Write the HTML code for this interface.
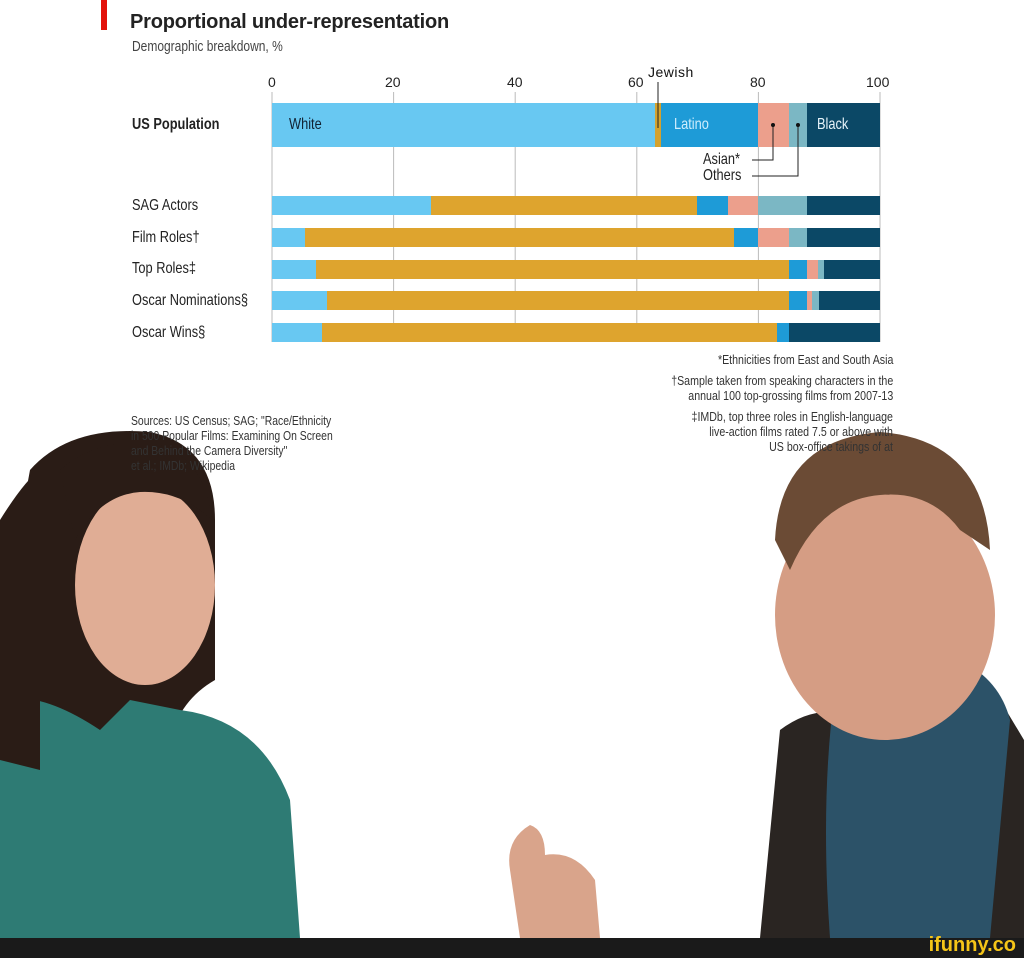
<!DOCTYPE html>
<html><head><meta charset="utf-8"><style>
html,body{margin:0;padding:0;background:#fff;width:1024px;height:958px;overflow:hidden;position:relative;font-family:"Liberation Sans",sans-serif}
.a{position:absolute;white-space:nowrap}
.n{transform:scaleX(0.8);transform-origin:left top}
.r{transform:scaleX(0.85);transform-origin:right top}
.lbl{font-size:15px;color:#222}
.tk{font-size:14px;color:#222}
.fn{font-size:12.5px;color:#333;text-align:right}
</style></head><body>
<div class="a" style="left:101px;top:0;width:6px;height:30px;background:#e3120b"></div>
<div class="a" style="left:130px;top:11px;font-weight:bold;font-size:20px;color:#222;letter-spacing:-0.2px">Proportional under-representation</div>
<div class="a n" style="left:132px;top:38px;font-size:15px;color:#444">Demographic breakdown, %</div>
<svg class="a" style="left:0;top:0" width="1024" height="958">
<g stroke="#bbb" stroke-width="1">
<line x1="272" y1="92" x2="272" y2="342"/><line x1="393.6" y1="92" x2="393.6" y2="342"/><line x1="515.2" y1="92" x2="515.2" y2="342"/><line x1="636.8" y1="92" x2="636.8" y2="342"/><line x1="758.4" y1="92" x2="758.4" y2="342"/><line x1="880" y1="92" x2="880" y2="342"/>
</g>
<g>
<rect x="272" y="103" width="383" height="44" fill="#68c8f2"/><rect x="655" y="103" width="6" height="44" fill="#d4a22e"/><rect x="661" y="103" width="97" height="44" fill="#1e9bd7"/><rect x="758" y="103" width="31" height="44" fill="#ec9f8c"/><rect x="789" y="103" width="18" height="44" fill="#7bb7c4"/><rect x="807" y="103" width="73" height="44" fill="#0b4866"/>
<rect x="272" y="196" width="159" height="19" fill="#68c8f2"/><rect x="431" y="196" width="266" height="19" fill="#dea42e"/><rect x="697" y="196" width="31" height="19" fill="#1e9bd7"/><rect x="728" y="196" width="30" height="19" fill="#ec9f8c"/><rect x="758" y="196" width="49" height="19" fill="#7bb7c4"/><rect x="807" y="196" width="73" height="19" fill="#0b4866"/>
<rect x="272" y="228" width="33" height="19" fill="#68c8f2"/><rect x="305" y="228" width="429" height="19" fill="#dea42e"/><rect x="734" y="228" width="24" height="19" fill="#1e9bd7"/><rect x="758" y="228" width="31" height="19" fill="#ec9f8c"/><rect x="789" y="228" width="18" height="19" fill="#7bb7c4"/><rect x="807" y="228" width="73" height="19" fill="#0b4866"/>
<rect x="272" y="260" width="44" height="19" fill="#68c8f2"/><rect x="316" y="260" width="473" height="19" fill="#dea42e"/><rect x="789" y="260" width="18" height="19" fill="#1e9bd7"/><rect x="807" y="260" width="11" height="19" fill="#ec9f8c"/><rect x="818" y="260" width="6" height="19" fill="#7bb7c4"/><rect x="824" y="260" width="56" height="19" fill="#0b4866"/>
<rect x="272" y="291" width="55" height="19" fill="#68c8f2"/><rect x="327" y="291" width="462" height="19" fill="#dea42e"/><rect x="789" y="291" width="18" height="19" fill="#1e9bd7"/><rect x="807" y="291" width="5" height="19" fill="#ec9f8c"/><rect x="812" y="291" width="7" height="19" fill="#7bb7c4"/><rect x="819" y="291" width="61" height="19" fill="#0b4866"/>
<rect x="272" y="323" width="50" height="19" fill="#68c8f2"/><rect x="322" y="323" width="455" height="19" fill="#dea42e"/><rect x="777" y="323" width="12" height="19" fill="#1e9bd7"/><rect x="789" y="323" width="91" height="19" fill="#0b4866"/>
</g>
<g stroke="#222" stroke-width="1" fill="none">
<line x1="658" y1="82" x2="658" y2="128"/>
<polyline points="773,125 773,160 752,160"/><polyline points="798,125 798,176 752,176"/>
</g>
<circle cx="773" cy="125" r="2" fill="#111"/><circle cx="798" cy="125" r="2" fill="#111"/>
<path d="M30,470 Q70,425 150,432 Q215,445 215,520 L215,680 Q180,700 170,740 L110,770 Q40,770 20,700 Q5,600 30,470Z" fill="#2a1c16"/>
<ellipse cx="145" cy="585" rx="70" ry="100" fill="#e0ad95"/>
<path d="M60,470 Q100,435 160,445 Q205,460 212,520 Q180,490 140,492 Q100,495 75,540Z" fill="#2a1c16"/>
<path d="M0,700 Q40,690 100,730 L130,700 L180,710 Q260,720 290,800 L300,938 L0,938Z" fill="#2e7b74"/>
<path d="M0,520 Q25,480 40,470 L40,770 L0,760Z" fill="#2a1c16"/>
<path d="M510,870 Q505,840 530,825 Q545,830 545,855 Q575,850 595,880 L600,938 L520,938Z" fill="#d9a48b"/>
<path d="M780,730 Q820,700 860,720 L1000,700 L1024,740 L1024,938 L760,938 Z" fill="#2a2522"/>
<path d="M835,690 L960,660 Q1000,680 1010,720 L990,938 L830,938 Q820,800 835,690Z" fill="#2c5268"/>
<ellipse cx="885" cy="615" rx="110" ry="125" fill="#d59d84"/>
<path d="M775,540 Q780,440 880,432 Q985,440 990,550 L960,530 Q930,490 880,495 Q820,500 790,570Z" fill="#6b4b35"/>
<rect x="0" y="938" width="1024" height="20" fill="#1a1a1a"/>
</svg>
<div class="a tk" style="left:268px;top:74px">0</div>
<div class="a tk" style="left:385px;top:74px">20</div>
<div class="a tk" style="left:507px;top:74px">40</div>
<div class="a tk" style="left:628px;top:74px">60</div>
<div class="a tk" style="left:750px;top:74px">80</div>
<div class="a tk" style="left:866px;top:74px">100</div>
<div class="a" style="left:648px;top:64px;font-size:14px;color:#111;letter-spacing:0.5px">Jewish</div>
<div class="a n" style="left:289px;top:116px;font-size:16px;color:#123">White</div>
<div class="a n" style="left:674px;top:116px;font-size:16px;color:#cfeefd">Latino</div>
<div class="a n" style="left:817px;top:116px;font-size:16px;color:#e6f4fa">Black</div>
<div class="a n" style="left:703px;top:151px;font-size:16px;color:#222">Asian*</div>
<div class="a n" style="left:703px;top:167px;font-size:16px;color:#222">Others</div>
<div class="a lbl n" style="left:132px;top:116px;font-weight:bold;font-size:16px">US Population</div>
<div class="a lbl n" style="left:132px;top:197px;font-size:16px">SAG Actors</div>
<div class="a lbl n" style="left:132px;top:229px;font-size:16px">Film Roles†</div>
<div class="a lbl n" style="left:132px;top:260px;font-size:16px">Top Roles‡</div>
<div class="a lbl n" style="left:132px;top:292px;font-size:16px">Oscar Nominations§</div>
<div class="a lbl n" style="left:132px;top:324px;font-size:16px">Oscar Wins§</div>
<div class="a fn r" style="right:131px;top:353px">*Ethnicities from East and South Asia</div>
<div class="a fn r" style="right:131px;top:374px;line-height:15px">†Sample taken from speaking characters in the<br>annual 100 top-grossing films from 2007-13</div>
<div class="a fn r" style="right:131px;top:410px;line-height:15px">‡IMDb, top three roles in English-language<br>live-action films rated 7.5 or above with<br>US box-office takings of at</div>
<div class="a n" style="left:131px;top:413px;font-size:13px;color:#333;line-height:15px">Sources: US Census; SAG; "Race/Ethnicity<br>in 500 Popular Films: Examining On Screen<br>and Behind the Camera Diversity"<br>et al.; IMDb; Wikipedia</div>
<div class="a" style="right:8px;top:934px;font-weight:bold;font-size:20px;color:#f5c518">ifunny.co</div>
</body></html>
